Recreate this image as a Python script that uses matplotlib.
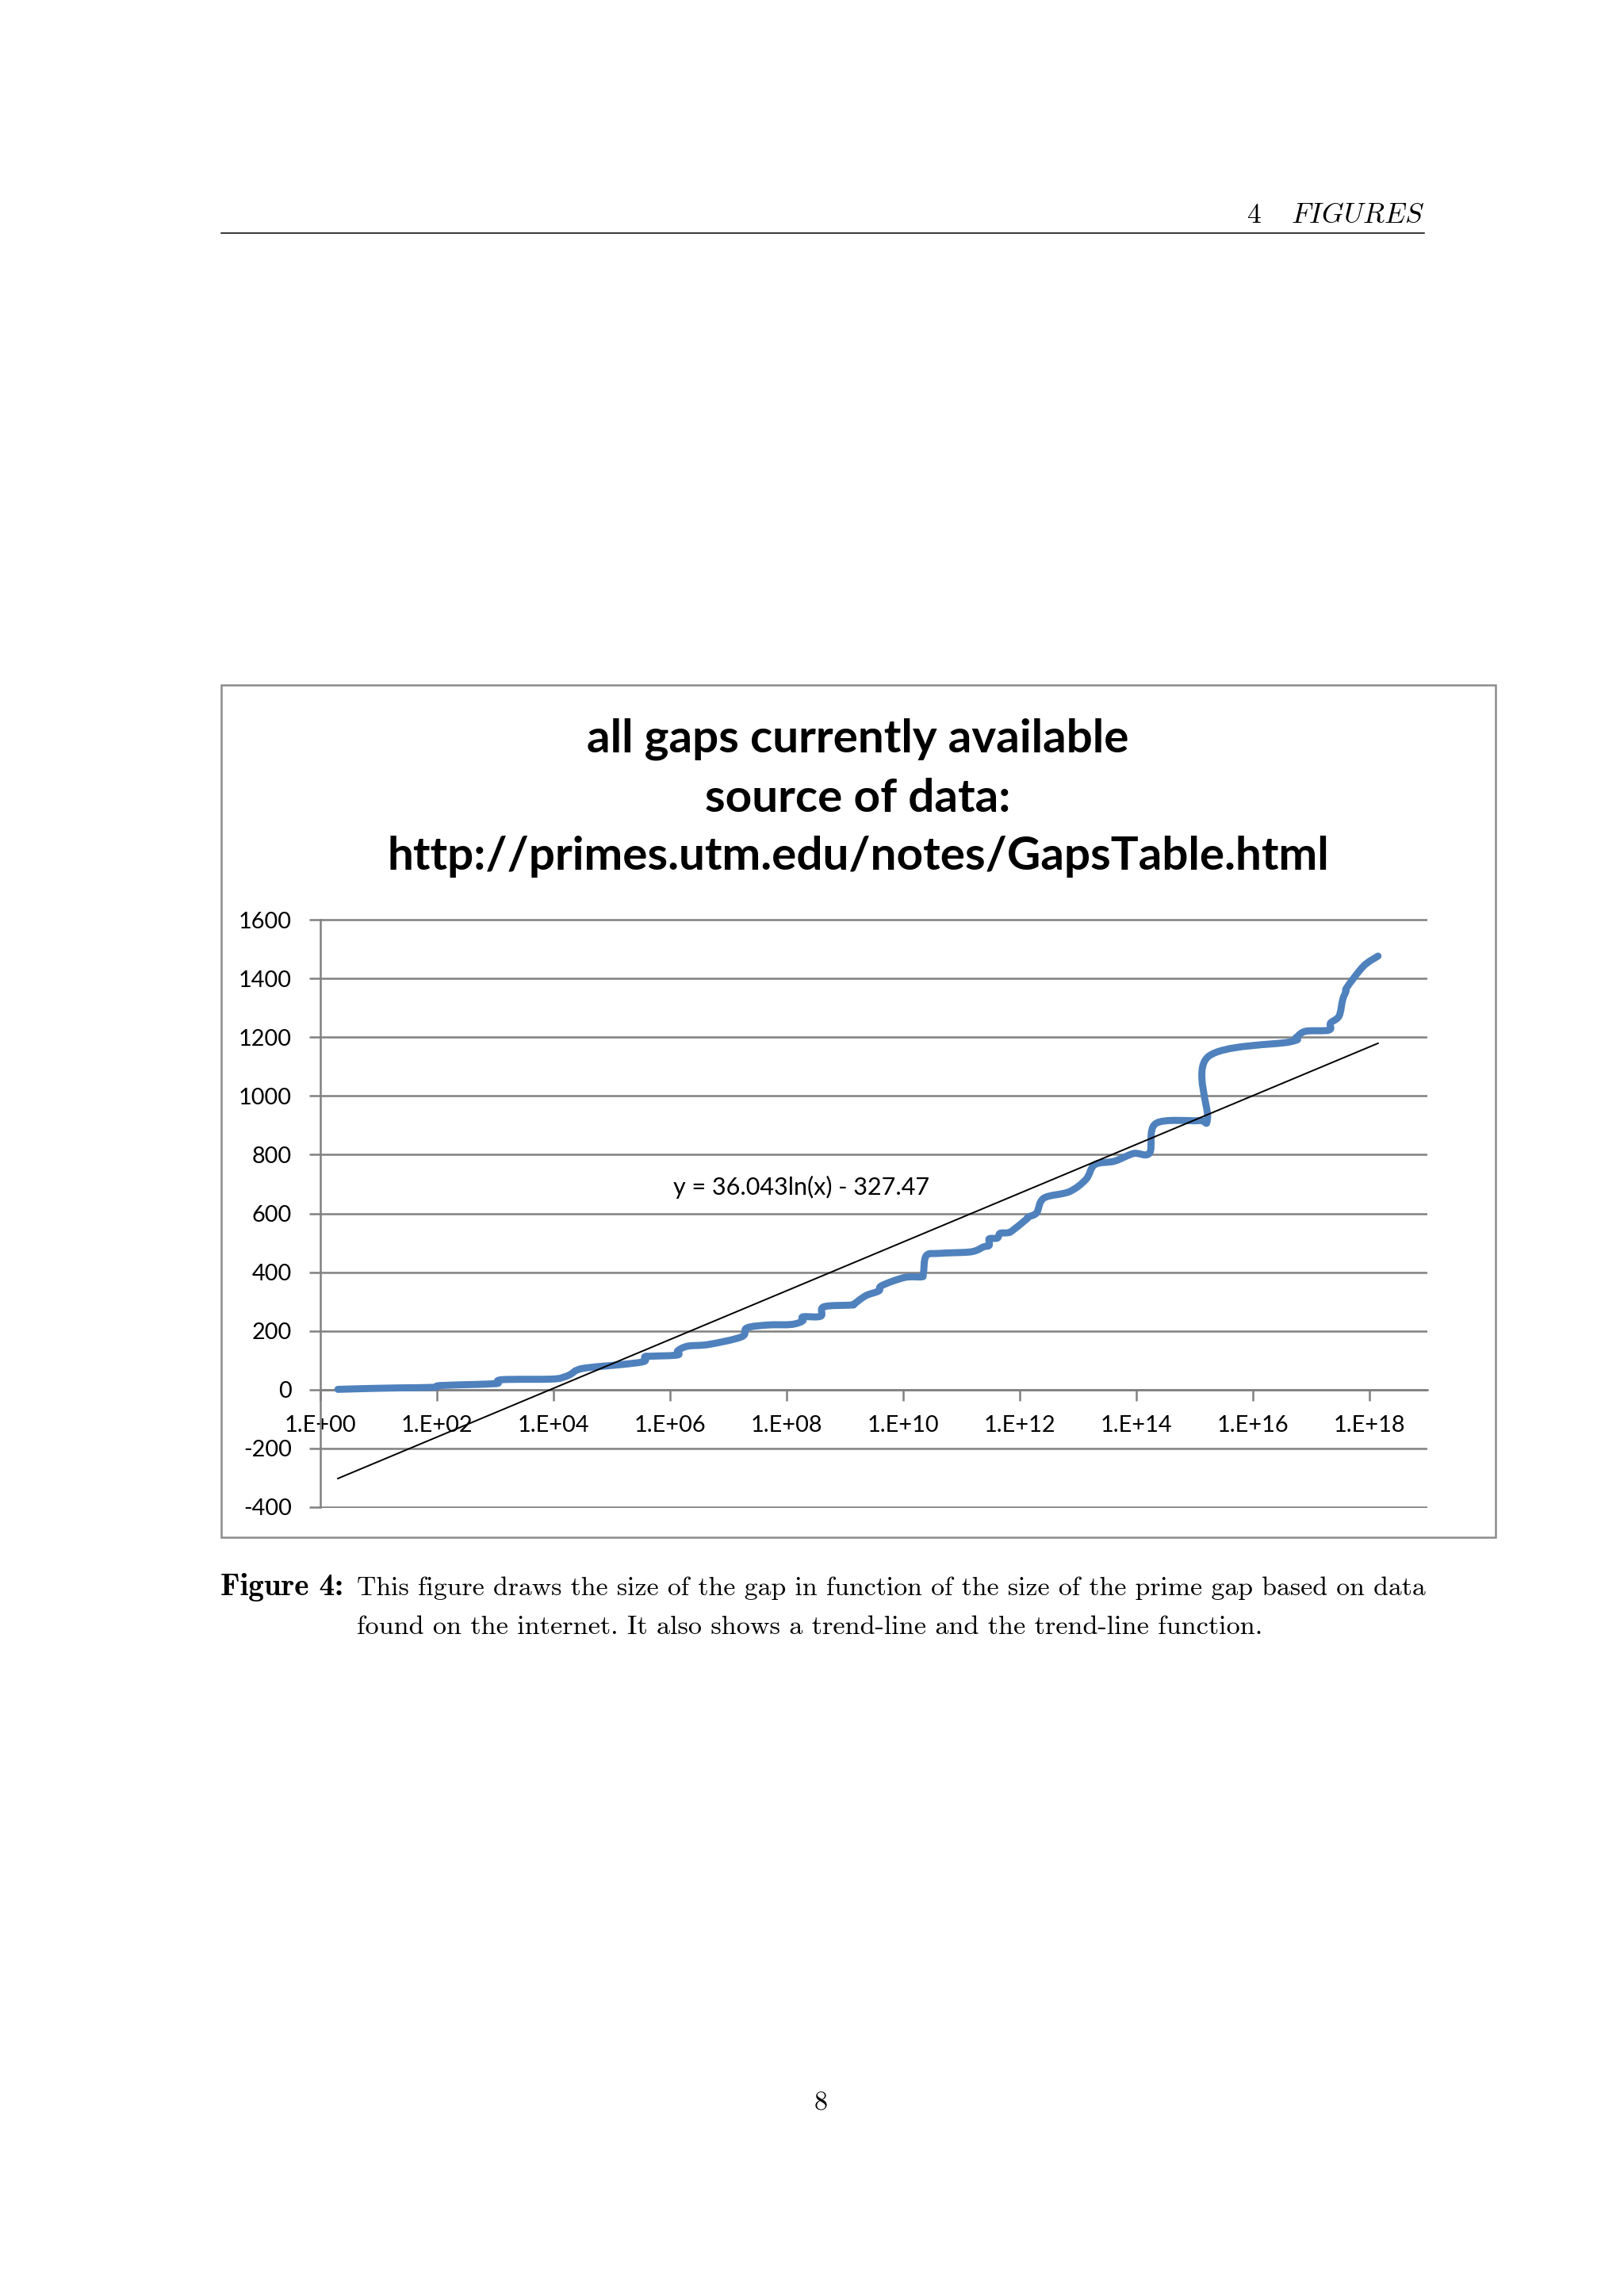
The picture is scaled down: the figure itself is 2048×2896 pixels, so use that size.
import numpy as np
import matplotlib
matplotlib.use('Agg')
import matplotlib.pyplot as plt
from matplotlib.patches import Rectangle, PathPatch
from matplotlib.path import Path
from matplotlib.ticker import FixedLocator, NullLocator, FuncFormatter

# maximal prime gaps: gap size and the prime that starts it
gap_size = [1, 2, 4, 6, 8, 14, 18, 20, 22, 34, 36, 44, 52, 72, 86, 96, 112, 114,
            118, 132, 148, 154, 180, 210, 220, 222, 234, 248, 250, 282, 288, 292,
            320, 336, 354, 382, 384, 394, 456, 464, 468, 474, 486, 490, 500, 514,
            516, 532, 534, 540, 582, 588, 602, 652, 674, 716, 766, 778, 804, 806,
            906, 916, 924, 1132, 1184, 1198, 1220, 1224, 1248, 1272, 1328, 1356,
            1370, 1442, 1476]
gap_start = [2, 3, 7, 23, 89, 113, 523, 887, 1129, 1327, 9551, 15683, 19609, 31397,
             155921, 360653, 370261, 492113, 1349533, 1357201, 2010733, 4652353,
             17051707, 20831323, 47326693, 122164747, 189695659, 191912783,
             387096133, 436273009, 1294268491, 1453168141, 2300942549, 3842610773,
             4302407359, 10726904659, 20678048297, 22367084959, 25056082087,
             42652618343, 127976334671, 182226896239, 241160624143, 297501075799,
             303371455241, 304599508537, 416608695821, 461690510011, 614487453523,
             738832927927, 1346294310749, 1408695493609, 1968188556461,
             2614941710599, 7177162611713, 13829048559701, 19581334192423,
             42842283925351, 90874329411493, 171231342420521, 218209405436543,
             1189459969825483, 1686994940955803, 1693182318746371,
             43841547845541059, 55350776431903243, 80873624627234849,
             203986478517455989, 218034721194214273, 305405826521087869,
             352521223451364323, 401429925999153707, 418032645936712127,
             804212830686677669, 1425172824437699411]
gap_start = np.array(gap_start, dtype=float)

# excel log trend line
trend_a = 36.043
trend_b = -327.47
trend_label = 'y = 36.043ln(x) - 327.47'

title_lines = ['all gaps currently available', 'source of data:',
               'http://primes.utm.edu/notes/GapsTable.html']
caption_1 = 'This figure draws the size of the gap in function of the size of the prime gap based on data'
caption_2 = 'found on the internet. It also shows a trend-line and the trend-line function.'

plt.rcParams['axes.unicode_minus'] = False
plt.rcParams['mathtext.fontset'] = 'cm'

W, H = 2048, 2896
fig = plt.figure(figsize=(W / 200, H / 200), dpi=200)
fig.patch.set_facecolor('white')
r = fig.canvas.get_renderer()


def fit(t, width_px):
    w = t.get_window_extent(r).width
    t.set_fontsize(t.get_fontsize() * width_px / w)
    return t.get_fontsize()


def fx(px):
    return px / W


def fy(py):
    return 1 - py / H


# page header
fig.add_artist(plt.Line2D([fx(279), fx(1796)], [fy(294), fy(294)], color='black', lw=0.55))
hdr = fig.text(fx(1796), fy(281), r'$\mathit{FIGURES}$', ha='right', va='baseline', fontsize=14)
fit(hdr, 168)
fig.text(fx(1573), fy(281), '4', family='cmr10', ha='left', va='baseline', fontsize=hdr.get_fontsize())

# chart frame
fig.add_artist(Rectangle((fx(279), fy(1939)), fx(1886) - fx(279), fy(864) - fy(1939),
                         transform=fig.transFigure, fill=False, edgecolor='#8c8c8c', lw=0.9))

# title
t3 = fig.text(fx(1082), fy(1081), title_lines[2], family='Lato', weight='bold',
              ha='center', va='center', fontsize=20)
ts = fit(t3, 1190)
fig.text(fx(1082), fy(932), title_lines[0], family='Lato', weight='bold', ha='center', va='center', fontsize=ts)
fig.text(fx(1082), fy(1008), title_lines[1], family='Lato', weight='bold', ha='center', va='center', fontsize=ts)

# axes a hair taller than -400..1600 so the edge gridlines are not clipped
ax = fig.add_axes([fx(404), fy(1902), fx(1800) - fx(404), fy(1159) - fy(1902)])
ax.set_facecolor('none')
ax.set_xscale('log')

# smoothed line like excel: bezier segments through the points (in log-x space)
pts = np.column_stack([np.log10(gap_start), np.array(gap_size, dtype=float)])
ext = np.vstack([pts[0], pts, pts[-1]])
verts = [pts[0]]
codes = [Path.MOVETO]
for i in range(len(pts) - 1):
    p0, p1, p2, p3 = ext[i], ext[i + 1], ext[i + 2], ext[i + 3]
    verts += [p1 + (p2 - p0) / 6, p2 - (p3 - p1) / 6, p2]
    codes += [Path.CURVE4] * 3
verts = np.array(verts)
verts[:, 0] = 10 ** verts[:, 0]
ax.add_patch(PathPatch(Path(verts, codes), fill=False, edgecolor='#4F81BD', lw=3.2,
                       joinstyle='round', capstyle='round', zorder=3))

x_tr = gap_start[[0, -1]]
ax.plot(x_tr, trend_a * np.log(x_tr) + trend_b, color='black', lw=0.7, zorder=4)
ax.text(10 ** 8.26, 688, trend_label, family='Lato', fontsize=11, ha='center', va='center')

ax.set_xlim(1, 1e19)
ax.set_ylim(-402.7, 1602.7)
ax.set_yticks(range(-400, 1601, 200))
ax.yaxis.grid(True, color='#808080', lw=0.9)
ax.set_axisbelow(True)
for s in ['top', 'right']:
    ax.spines[s].set_visible(False)
ax.spines['bottom'].set_position(('data', 0))
ax.spines['left'].set_bounds(-400, 1600)
ax.spines['bottom'].set_color('#808080')
ax.spines['left'].set_color('#808080')
ax.spines['left'].set_linewidth(0.9)
ax.spines['bottom'].set_linewidth(0.9)

ax.xaxis.set_major_locator(FixedLocator(10.0 ** np.arange(0, 19, 2)))
ax.xaxis.set_minor_locator(NullLocator())
ax.xaxis.set_major_formatter(FuncFormatter(lambda v, p: '1.E+%02d' % round(np.log10(v))))
ax.tick_params(axis='x', direction='out', length=5, width=0.9, color='#808080', pad=6.5, labelsize=10.4)
ax.tick_params(axis='y', direction='out', length=5, width=0.9, color='#808080', pad=8, labelsize=10.4)
for lab in ax.get_xticklabels() + ax.get_yticklabels():
    lab.set_family('Lato')

# caption
c1 = fig.text(fx(450), fy(2012), caption_1, family='cmr10', ha='left', va='baseline', fontsize=15)
fit(c1, 1347)
c2 = fig.text(fx(450), fy(2061), caption_2, family='cmr10', ha='left', va='baseline', fontsize=15)
cs = fit(c2, 1144)
lbl = fig.text(fx(278), fy(2012), 'Figure 4:', family='cmb10', ha='left', va='baseline', fontsize=cs)
fit(lbl, 155)

# page number
fig.text(fx(1035), fy(2662), '8', family='cmr10', ha='center', va='baseline', fontsize=cs)

fig.savefig('out.png', dpi=200)
